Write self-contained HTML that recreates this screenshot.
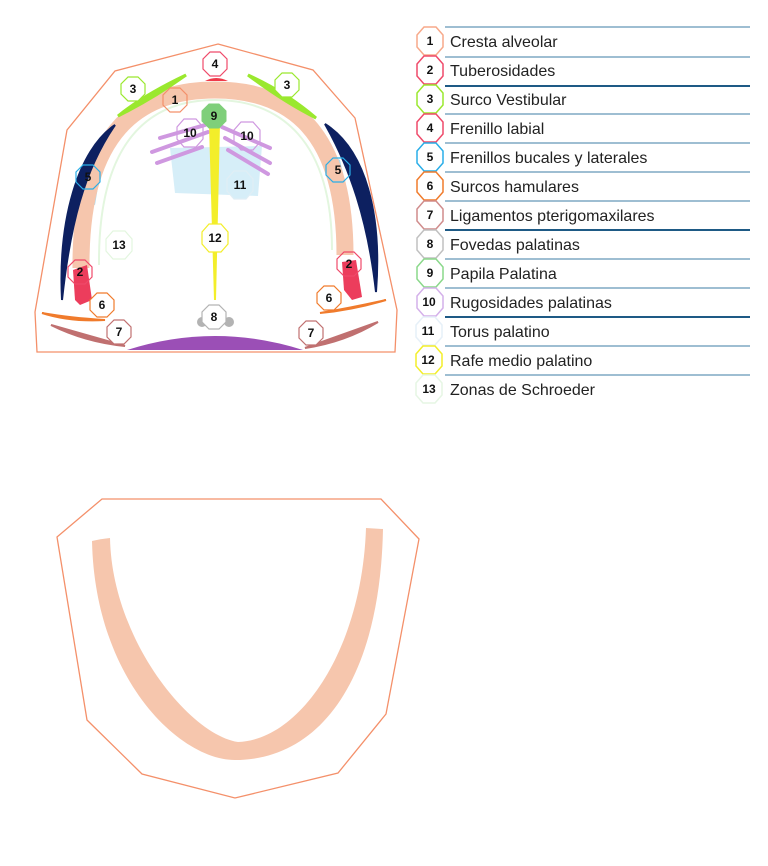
<!DOCTYPE html>
<html><head><meta charset="utf-8"><style>
html,body{margin:0;padding:0;background:#fff;}
svg{display:block;}
text{font-family:"Liberation Sans",sans-serif;}
</style></head><body>
<svg width="768" height="866" viewBox="0 0 768 866" xmlns="http://www.w3.org/2000/svg">
<defs>
<polygon id="oct" points="12,5 5,12 -5,12 -12,5 -12,-5 -5,-12 5,-12 12,-5"/>
<polygon id="octL" points="13,6 6,14 -6,14 -13,6 -13,-6 -6,-14 6,-14 13,-6"/>
</defs>
<polygon points="218,44 313,70 355,118 397,310 395,352 37,352 35,312 67,130 115,71" fill="none" stroke="#f4906a" stroke-width="1.3"/>
<polygon points="170,148 262,146 258,196 175,193" fill="#d6eef8"/>
<path d="M108,148 L88,160 L84,200 L95,205 L100,175 Z" fill="#a9dcf2"/>
<path d="M322,150 L340,160 L348,196 L340,200 L333,172 Z" fill="#a9dcf2"/>
<path d="M99,265 C98,140 150,100 215,100 C280,100 332,140 332,250" fill="none" stroke="#e3f6df" stroke-width="2"/>
<path d="M81,268 C80,130 140,90 215,90 C290,90 345,130 345,255" fill="none" stroke="#f6c6ad" stroke-width="17"/>
<path d="M115,125 C78,150 58,220 62,300 C70,225 84,170 115,125 Z" fill="#0d2060" stroke="#0d2060" stroke-width="2"/>
<path d="M325,124 C366,150 382,215 376,292 C368,220 350,168 325,124 Z" fill="#0d2060" stroke="#0d2060" stroke-width="2"/>
<path d="M118,116 C140,98 165,85 186,75 C165,90 140,105 118,116 Z" fill="#9ae82e" stroke="#9ae82e" stroke-width="3"/>
<path d="M248,75 C270,85 295,100 316,118 C292,106 268,90 248,75 Z" fill="#9ae82e" stroke="#9ae82e" stroke-width="3"/>
<path d="M205,81 Q216,75 228,81 Z" fill="#ef3a4a"/>
<g stroke="#cf98e0" stroke-width="4" stroke-linecap="round">
<line x1="160" y1="138" x2="205" y2="125"/>
<line x1="152" y1="152" x2="208" y2="132"/>
<line x1="157" y1="163" x2="202" y2="147"/>
<line x1="222" y1="127" x2="270" y2="148"/>
<line x1="225" y1="138" x2="270" y2="163"/>
<line x1="228" y1="150" x2="268" y2="174"/>
</g>
<polygon points="209,124 220,124 216,300 214,300" fill="#f3ee2a"/>
<use href="#oct" x="214" y="116" fill="#7fcf7a" stroke="#7fcf7a"/>
<path d="M73,270 L87,265 L92,300 L80,305 L75,300 Z" fill="#ec3d5c"/>
<path d="M342,262 L356,260 L362,297 L352,300 L344,290 Z" fill="#ec3d5c"/>
<path d="M42,313 Q70,318 105,320 Q70,322 42,313 Z" fill="#f07b2c" stroke="#f07b2c" stroke-width="2"/>
<path d="M386,300 Q350,308 320,313 Q352,310 386,300 Z" fill="#f07b2c" stroke="#f07b2c" stroke-width="2"/>
<path d="M51,325 L125,346 Q85,342 51,325 Z" fill="#c07070" stroke="#c07070" stroke-width="2"/>
<path d="M378,322 L305,348 Q345,342 378,322 Z" fill="#c07070" stroke="#c07070" stroke-width="2"/>
<path d="M127,350 Q215,322 303,350 Z" fill="#9b4fb6"/>
<circle cx="202" cy="322" r="5" fill="#b3b3b3"/><circle cx="229" cy="322" r="5" fill="#b3b3b3"/>
<g fill="#fff" stroke-width="1.2">
<use href="#oct" x="215" y="64" stroke="#ef4a6a"/>
<use href="#oct" x="133" y="89" stroke="#9ae82e"/>
<use href="#oct" x="287" y="85" stroke="#9ae82e"/>
<use href="#oct" x="175" y="100" stroke="#f4906a" fill="none"/>
<use href="#octL" x="190" y="133" stroke="#cf98e0" fill="none"/>
<use href="#octL" x="247" y="136" stroke="#cf98e0" fill="none"/>
<use href="#oct" x="88" y="177" stroke="#29aee8" fill="none"/>
<use href="#oct" x="338" y="170" stroke="#29aee8" fill="none"/>
<use href="#octL" x="240" y="185" stroke="#e0eef5" fill="#d6eef8"/>
<use href="#octL" x="215" y="238" stroke="#f3ee2a"/>
<use href="#octL" x="119" y="245" stroke="#e3f6df"/>
<use href="#oct" x="80" y="272" stroke="#ef4a6a" fill="none"/>
<use href="#oct" x="349" y="264" stroke="#ef4a6a" fill="none"/>
<use href="#oct" x="102" y="305" stroke="#f07b2c"/>
<use href="#oct" x="329" y="298" stroke="#f07b2c"/>
<use href="#oct" x="214" y="317" stroke="#b3b3b3"/>
<use href="#oct" x="119" y="332" stroke="#c07070"/>
<use href="#oct" x="311" y="333" stroke="#c07070"/>
</g>
<g font-size="12" font-weight="bold" fill="#111" text-anchor="middle">
<text x="215" y="68">4</text><text x="133" y="93">3</text><text x="287" y="89">3</text>
<text x="175" y="104">1</text><text x="214" y="120">9</text>
<text x="190" y="137">10</text><text x="247" y="140">10</text>
<text x="88" y="181">5</text><text x="338" y="174">5</text>
<text x="240" y="189">11</text><text x="215" y="242">12</text><text x="119" y="249">13</text>
<text x="80" y="276">2</text><text x="349" y="268">2</text>
<text x="102" y="309">6</text><text x="329" y="302">6</text>
<text x="214" y="321">8</text><text x="119" y="336">7</text><text x="311" y="337">7</text>
</g>
<g stroke="#3d7ea6" stroke-width="1">
<line x1="445" y1="27" x2="750" y2="27"/><line x1="445" y1="57" x2="750" y2="57"/>
<line x1="445" y1="86" x2="750" y2="86" stroke="#1e5a85" stroke-width="2"/>
<line x1="445" y1="114" x2="750" y2="114"/><line x1="445" y1="143" x2="750" y2="143"/>
<line x1="445" y1="172" x2="750" y2="172"/><line x1="445" y1="201" x2="750" y2="201"/>
<line x1="445" y1="230" x2="750" y2="230" stroke="#1e5a85" stroke-width="2"/>
<line x1="445" y1="259" x2="750" y2="259"/><line x1="445" y1="288" x2="750" y2="288"/>
<line x1="445" y1="317" x2="750" y2="317" stroke="#1e5a85" stroke-width="2"/>
<line x1="445" y1="346" x2="750" y2="346"/><line x1="445" y1="375" x2="750" y2="375"/>
</g>
<g fill="#fff" stroke-width="1.5">
<use href="#octL" x="430" y="41" stroke="#f7a98a"/>
<use href="#octL" x="430" y="70" stroke="#ef4a6a"/>
<use href="#octL" x="430" y="99" stroke="#9ae82e"/>
<use href="#octL" x="430" y="128" stroke="#ef4a6a"/>
<use href="#octL" x="430" y="157" stroke="#29aee8"/>
<use href="#octL" x="430" y="186" stroke="#f07b2c"/>
<use href="#octL" x="430" y="215" stroke="#d08c8c"/>
<use href="#octL" x="430" y="244" stroke="#c0c0c0"/>
<use href="#octL" x="430" y="273" stroke="#8ad88a"/>
<use href="#octL" x="430" y="302" stroke="#d4b0ea"/>
<use href="#octL" x="429" y="331" stroke="#e6f0f8"/>
<use href="#octL" x="429" y="360" stroke="#f3ee2a"/>
<use href="#octL" x="429" y="389" stroke="#e6f6e4"/>
</g>
<g font-size="12" font-weight="bold" fill="#111" text-anchor="middle">
<text x="430" y="45">1</text><text x="430" y="74">2</text><text x="430" y="103">3</text>
<text x="430" y="132">4</text><text x="430" y="161">5</text><text x="430" y="190">6</text>
<text x="430" y="219">7</text><text x="430" y="248">8</text><text x="430" y="277">9</text>
<text x="429" y="306">10</text><text x="428" y="335">11</text><text x="428" y="364">12</text><text x="429" y="393">13</text>
</g>
<g font-size="16" fill="#222">
<text x="450" y="47">Cresta alveolar</text>
<text x="450" y="76">Tuberosidades</text>
<text x="450" y="105">Surco Vestibular</text>
<text x="450" y="134">Frenillo labial</text>
<text x="450" y="163">Frenillos bucales y laterales</text>
<text x="450" y="192">Surcos hamulares</text>
<text x="450" y="221">Ligamentos pterigomaxilares</text>
<text x="450" y="250">Fovedas palatinas</text>
<text x="450" y="279">Papila Palatina</text>
<text x="450" y="308">Rugosidades palatinas</text>
<text x="450" y="337">Torus palatino</text>
<text x="450" y="366">Rafe medio palatino</text>
<text x="450" y="395">Zonas de Schroeder</text>
</g>
<polygon points="102,499 381,499 419,539 386,714 338,773 235,798 142,774 87,720 57,537" fill="none" stroke="#f4906a" stroke-width="1.3"/>
<path d="M92,541 Q100,539 110,538 C112,640 190,735 238,742 C300,740 362,650 366,528 L383,529 C380,680 320,760 235,760 C180,760 95,680 92,541 Z" fill="#f6c6ad"/>
</svg>
</body></html>
